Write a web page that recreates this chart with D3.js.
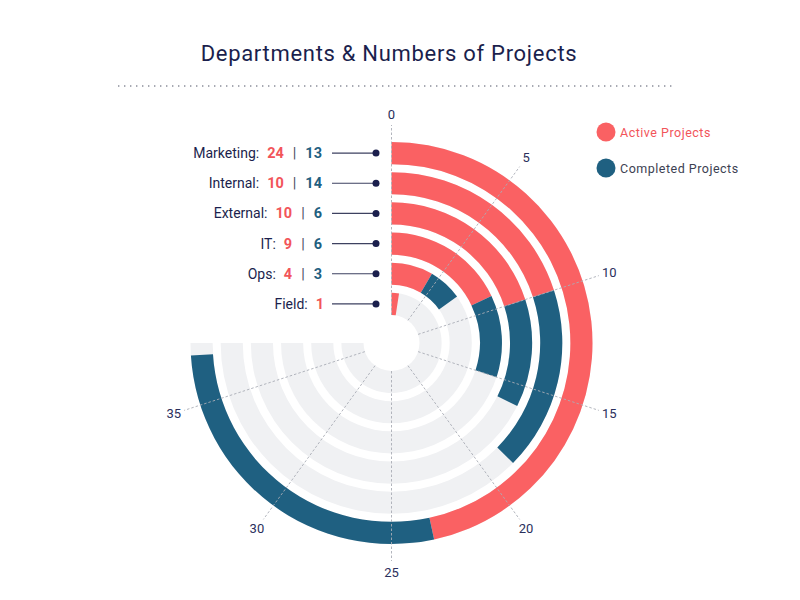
<!DOCTYPE html>
<html>
<head>
<meta charset="utf-8">
<script src="https://cdn.jsdelivr.net/npm/d3@7"></script>
<style>
  body { margin: 0; background: #fff; }
  text { font-family: Roboto, "Noto Sans", sans-serif; }
</style>
</head>
<body>
<svg id="chart" width="800" height="600"></svg>
<script>
// data (outermost ring first)
const departments = ["Marketing", "Internal", "External", "IT", "Ops", "Field"];
const active = [23.3, 10, 10, 9, 4.2, 1.2];
const completed = [13.7, 8.7, 6.2, 6, 3.4, 0];
// numbers as printed next to each department
const activeLabels = ["24", "10", "10", "9", "4", "1"];
const completedLabels = ["13", "14", "6", "6", "3", ""];
const ticks = [0, 5, 10, 15, 20, 25, 30, 35];
const fullTurn = 50;
const trackEnd = 37.5;

const red = "#fa6163";
const blue = "#1f6081";
const navy = "#1b1f4d";

const svg = d3.select("#chart");
const cx = 391.5, cy = 343;

// title + dotted rule
svg.append("text")
  .attr("x", 389).attr("y", 61)
  .attr("text-anchor", "middle")
  .style("font-size", "22px")
  .style("font-weight", 400)
  .style("letter-spacing", "0.7px")
  .style("fill", navy)
  .text("Departments & Numbers of Projects");

svg.append("line")
  .attr("x1", 118).attr("x2", 672)
  .attr("y1", 86).attr("y2", 86)
  .attr("stroke", "#8a8d99")
  .attr("stroke-width", 1.4)
  .attr("stroke-dasharray", "1.4 4.6");

const g = svg.append("g").attr("transform", `translate(${cx},${cy})`);

const x = d3.scaleLinear().domain([0, fullTurn]).range([0, 2 * Math.PI]);
const y = d3.scaleBand()
  .domain(departments.slice().reverse())
  .range([28, 201])
  .paddingInner(0.2667)
  .paddingOuter(0);
const bw = y.bandwidth();

const rows = departments.map((d, i) => ({
  name: d, active: active[i], completed: completed[i],
  aLabel: activeLabels[i], cLabel: completedLabels[i]
}));

const arc = d3.arc()
  .innerRadius(d => y(d.name))
  .outerRadius(d => y(d.name) + bw)
  .startAngle(d => x(d.from))
  .endAngle(d => x(d.to));

// grey tracks
g.selectAll("path.track")
  .data(rows.map(r => ({ name: r.name, from: 0, to: trackEnd })))
  .enter().append("path")
  .attr("class", "track")
  .attr("d", arc)
  .attr("fill", "#f0f1f3");

// active bars
g.selectAll("path.active")
  .data(rows.map(r => ({ name: r.name, from: 0, to: r.active })))
  .enter().append("path")
  .attr("class", "active")
  .attr("d", arc)
  .attr("fill", red);

// completed bars, stacked after active
g.selectAll("path.completed")
  .data(rows.filter(r => r.completed > 0)
    .map(r => ({ name: r.name, from: r.active, to: r.active + r.completed })))
  .enter().append("path")
  .attr("class", "completed")
  .attr("d", arc)
  .attr("fill", blue);

// radial grid lines + tick labels
const rIn = 28, rOut = 218, rLab = 229;
const grid = g.selectAll("g.tick")
  .data(ticks)
  .enter().append("g")
  .attr("class", "tick");

grid.append("line")
  .attr("x1", d => rIn * Math.sin(x(d)))
  .attr("y1", d => -rIn * Math.cos(x(d)))
  .attr("x2", d => rOut * Math.sin(x(d)))
  .attr("y2", d => -rOut * Math.cos(x(d)))
  .attr("stroke", "#a9adb6")
  .attr("stroke-width", 0.9)
  .attr("stroke-dasharray", "2.5 2");

grid.append("text")
  .attr("x", d => rLab * Math.sin(x(d)))
  .attr("y", d => -rLab * Math.cos(x(d)))
  .attr("text-anchor", "middle")
  .attr("dominant-baseline", "central")
  .style("font-size", "13px")
  .style("fill", "#2a2f5c")
  .text(d => d);

// department labels on the left
const labelEnd = 322, gap = 9;
rows.forEach(r => {
  const ry = cy - (y(r.name) + bw / 2);
  const base = ry + 5;
  let xEnd = labelEnd;
  const put = (txt, fill, weight, size) => {
    const t = svg.append("text")
      .attr("x", xEnd).attr("y", base)
      .attr("text-anchor", "end")
      .style("font-size", size)
      .style("font-weight", weight)
      .style("fill", fill)
      .text(txt);
    xEnd -= t.node().getComputedTextLength() + gap;
  };
  if (r.cLabel) {
    put(r.cLabel, blue, 700, "14.5px");
    put("|", "#4a4e63", 400, "14.5px");
  } else {
    xEnd += 2;
  }
  put(r.aLabel, "#f2555a", 700, "14.5px");
  xEnd += 1;
  put(r.name + ":", navy, 400, "14px");

  svg.append("line")
    .attr("x1", 332).attr("x2", 376)
    .attr("y1", ry).attr("y2", ry)
    .attr("stroke", "#3d4160")
    .attr("stroke-width", 1.2);
  svg.append("circle")
    .attr("cx", 376).attr("cy", ry)
    .attr("r", 3.5)
    .attr("fill", navy);
});

// legend
const legend = [
  { label: "Active Projects", fill: red, text: "#f2555a" },
  { label: "Completed Projects", fill: blue, text: "#3c4152" }
];
legend.forEach((l, i) => {
  const ly = 132 + i * 36;
  svg.append("circle")
    .attr("cx", 606).attr("cy", ly).attr("r", 9.5)
    .attr("fill", l.fill);
  svg.append("text")
    .attr("x", 620).attr("y", ly + 4.5)
    .style("font-size", "12.5px")
    .style("font-weight", 400)
    .style("letter-spacing", "0.5px")
    .style("fill", l.text)
    .text(l.label);
});
</script>
</body>
</html>
